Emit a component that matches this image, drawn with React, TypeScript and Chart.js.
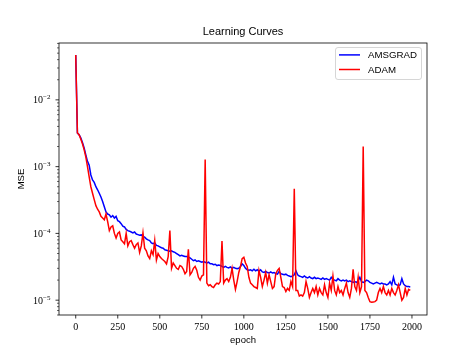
import React, { useEffect, useRef } from "react";
import { Chart, registerables } from "chart.js";

Chart.register(...registerables);

const TITLE = "Learning Curves";
const X_LABEL = "epoch";
const Y_LABEL = "MSE";
const SERIES_NAMES = ["AMSGRAD", "ADAM"];
const SERIES_COLORS = ["#0000ff", "#ff0000"];
const EPOCH_STEP = 10;
const X_TICKS = [0, 250, 500, 750, 1000, 1250, 1500, 1750, 2000];
const Y_DECADES = [-5, -4, -3, -2];
const X_MIN = -99.5;
const X_MAX = 2089.5;
const Y_MIN = 6e-6;
const Y_MAX = 7.1e-2;

const AMSGRAD = [
  4.7e-2, 3.2e-3, 3.0e-3, 2.7e-3, 2.3e-3, 1.9e-3, 1.5e-3, 1.2e-3, 1.05e-3, 7.5e-4,
  6.3e-4, 5.8e-4, 5.0e-4, 4.5e-4, 4.0e-4, 3.5e-4, 3.0e-4, 2.5e-4, 2.1e-4, 1.95e-4,
  1.9e-4, 1.75e-4, 1.85e-4, 1.7e-4, 1.8e-4, 1.55e-4, 1.5e-4, 1.4e-4, 1.28e-4, 1.25e-4,
  1.15e-4, 1.1e-4, 1.08e-4, 1.05e-4, 1.02e-4, 1.05e-4, 9.8e-5, 9.6e-5, 9.4e-5, 9.5e-5,
  9.0e-5, 8.8e-5, 8.3e-5, 8.0e-5, 7.8e-5, 7.2e-5, 7.0e-5, 7.2e-5, 6.6e-5, 6.5e-5,
  6.3e-5, 6.1e-5, 6.0e-5, 5.7e-5, 5.6e-5, 5.5e-5, 5.4e-5, 5.5e-5, 5.3e-5, 5.2e-5,
  5.0e-5, 4.8e-5, 4.6e-5, 4.7e-5, 4.6e-5, 4.5e-5, 4.5e-5, 4.4e-5, 4.3e-5, 4.1e-5,
  3.9e-5, 4.0e-5, 3.8e-5, 3.9e-5, 3.8e-5, 3.7e-5, 3.8e-5, 3.7e-5, 3.6e-5, 3.7e-5,
  3.5e-5, 3.5e-5, 3.4e-5, 3.45e-5, 3.3e-5, 3.35e-5, 3.3e-5, 3.2e-5, 3.1e-5, 3.2e-5,
  3.1e-5, 3.05e-5, 3.15e-5, 3.0e-5, 3.1e-5, 3.0e-5, 2.95e-5, 3.0e-5, 3.2e-5, 3.5e-5,
  3.3e-5, 3.0e-5, 2.85e-5, 2.8e-5, 2.85e-5, 2.75e-5, 2.9e-5, 2.75e-5, 2.85e-5, 2.7e-5,
  2.85e-5, 2.65e-5, 2.6e-5, 2.7e-5, 2.6e-5, 2.55e-5, 2.65e-5, 2.55e-5, 2.6e-5, 2.5e-5,
  2.45e-5, 2.7e-5, 2.5e-5, 2.45e-5, 2.4e-5, 2.45e-5, 2.35e-5, 2.3e-5, 2.25e-5, 2.3e-5,
  2.4e-5, 2.75e-5, 2.4e-5, 2.3e-5, 2.25e-5, 2.2e-5, 2.3e-5, 2.2e-5, 2.15e-5, 2.25e-5,
  2.15e-5, 2.1e-5, 2.2e-5, 2.1e-5, 2.15e-5, 2.1e-5, 2.05e-5, 2.15e-5, 2.05e-5, 2.1e-5,
  2.05e-5, 2.0e-5, 2.2e-5, 2.05e-5, 2.0e-5, 1.95e-5, 2.1e-5, 2.0e-5, 1.95e-5, 2.0e-5,
  1.95e-5, 2.0e-5, 1.9e-5, 1.95e-5, 1.9e-5, 1.85e-5, 1.9e-5, 1.85e-5, 1.95e-5, 2.2e-5,
  1.9e-5, 1.85e-5, 1.9e-5, 2.0e-5, 1.95e-5, 1.85e-5, 1.8e-5, 1.75e-5, 1.8e-5, 1.85e-5,
  1.8e-5, 1.75e-5, 1.8e-5, 1.75e-5, 1.75e-5, 1.7e-5, 1.75e-5, 1.9e-5, 1.7e-5, 2.2e-5,
  1.75e-5, 1.7e-5, 1.65e-5, 1.7e-5, 2.1e-5, 1.75e-5, 1.65e-5, 1.6e-5, 1.6e-5, 1.58e-5,
];

const ADAM = [
  4.7e-2, 3.2e-3, 3.0e-3, 2.6e-3, 2.2e-3, 1.8e-3, 1.4e-3, 1.0e-3, 7.0e-4, 5.0e-4,
  4.0e-4, 3.2e-4, 2.6e-4, 2.3e-4, 2.1e-4, 1.8e-4, 1.7e-4, 1.6e-4, 1.95e-4, 1.5e-4,
  1.1e-4, 1.25e-4, 1.3e-4, 1.0e-4, 8.5e-5, 1.0e-4, 1.05e-4, 8.0e-5, 7.5e-5, 7.0e-5,
  1.0e-4, 6.5e-5, 7.5e-5, 7.8e-5, 6.8e-5, 6.0e-5, 6.8e-5, 7.2e-5, 5.2e-5, 6.5e-5,
  1.02e-4, 6.0e-5, 5.5e-5, 4.6e-5, 4.2e-5, 5.5e-5, 4.8e-5, 7.8e-5, 4.0e-5, 5.0e-5,
  4.5e-5, 4.2e-5, 4.0e-5, 3.8e-5, 3.5e-5, 4.5e-5, 1.1e-4, 3.0e-5, 3.6e-5, 3.3e-5,
  3.0e-5, 2.9e-5, 3.3e-5, 3.2e-5, 2.9e-5, 2.5e-5, 2.7e-5, 5.8e-5, 2.4e-5, 2.6e-5,
  3.0e-5, 3.2e-5, 2.8e-5, 2.2e-5, 2.0e-5, 2.3e-5, 2.4e-5, 1.28e-3, 1.8e-5, 1.65e-5,
  1.7e-5, 1.6e-5, 1.55e-5, 1.7e-5, 1.8e-5, 1.75e-5, 1.9e-5, 7.7e-5, 1.8e-5, 2.0e-5,
  2.1e-5, 1.9e-5, 2.2e-5, 3.0e-5, 2.0e-5, 1.45e-5, 1.9e-5, 2.6e-5, 3.2e-5, 4.2e-5,
  4.4e-5, 3.6e-5, 3.2e-5, 2.2e-5, 1.8e-5, 1.7e-5, 1.6e-5, 1.55e-5, 1.5e-5, 2.8e-5,
  2.2e-5, 1.6e-5, 2.0e-5, 2.6e-5, 1.8e-5, 2.4e-5, 1.9e-5, 1.5e-5, 1.6e-5, 2.5e-5,
  2.8e-5, 3.0e-5, 2.2e-5, 1.6e-5, 1.55e-5, 1.35e-5, 1.5e-5, 1.4e-5, 1.9e-5, 1.6e-5,
  4.66e-4, 1.4e-5, 1.4e-5, 1.15e-5, 1.2e-5, 1.15e-5, 1.3e-5, 1.9e-5, 1.5e-5, 1.1e-5,
  1.3e-5, 1.5e-5, 1.3e-5, 1.6e-5, 1.2e-5, 1.5e-5, 1.3e-5, 1.2e-5, 1.7e-5, 1.3e-5,
  1.1e-5, 1.8e-5, 1.4e-5, 2.3e-5, 1.4e-5, 1.2e-5, 1.6e-5, 1.3e-5, 1.4e-5, 1.2e-5,
  1.5e-5, 1.8e-5, 1.3e-5, 1.1e-5, 1.5e-5, 2.9e-5, 1.6e-5, 1.4e-5, 2.2e-5, 1.3e-5,
  1.6e-5, 2.0e-3, 1.4e-5, 1.3e-5, 1.1e-5, 9.5e-6, 9.3e-6, 9.4e-6, 9.5e-6, 1.0e-5,
  1.3e-5, 1.5e-5, 1.3e-5, 1.6e-5, 1.3e-5, 1.2e-5, 1.4e-5, 1.2e-5, 1.5e-5, 1.3e-5,
  1.2e-5, 1.4e-5, 1.7e-5, 1.3e-5, 1.0e-5, 1.1e-5, 1.5e-5, 1.2e-5, 1.45e-5, 1.4e-5,
];

const SERIES = [AMSGRAD, ADAM];

const SERIF = '"Liberation Serif", "DejaVu Serif", serif';
const SANS = '"Liberation Sans", "DejaVu Sans", sans-serif';

const decorPlugin = {
  id: "decor",
  afterDraw(chart: any) {
    const { ctx, chartArea: a, scales } = chart;
    const xs = scales.x;
    const ys = scales.y;
    ctx.save();
    // tick marks
    ctx.strokeStyle = "#000";
    ctx.lineWidth = 0.8;
    ctx.beginPath();
    for (const t of X_TICKS) {
      const px = xs.getPixelForValue(t);
      ctx.moveTo(px, a.bottom);
      ctx.lineTo(px, a.bottom + 3.5);
    }
    ctx.stroke();
    for (let e = -7; e <= 0; e++) {
      for (let m = 1; m <= 9; m++) {
        const v = m * Math.pow(10, e);
        if (v < ys.min || v > ys.max) continue;
        const py = ys.getPixelForValue(v);
        const len = m === 1 ? 3.5 : 2;
        ctx.lineWidth = m === 1 ? 0.8 : 0.6;
        ctx.beginPath();
        ctx.moveTo(a.left - len, py);
        ctx.lineTo(a.left, py);
        ctx.stroke();
      }
    }
    // frame
    ctx.lineWidth = 0.8;
    ctx.strokeRect(a.left, a.top, a.right - a.left, a.bottom - a.top);

    // y tick labels 10^n
    ctx.fillStyle = "#000";
    ctx.textBaseline = "alphabetic";
    ctx.textAlign = "left";
    for (const e of Y_DECADES) {
      const py = ys.getPixelForValue(Math.pow(10, e));
      const sup = "\u2212" + String(-e);
      ctx.font = `7px ${SERIF}`;
      const w2 = ctx.measureText(sup).width;
      ctx.font = `10px ${SERIF}`;
      const w1 = ctx.measureText("10").width;
      const right = a.left - 8.5;
      ctx.fillText("10", right - w2 - w1, py + 3.5);
      ctx.font = `7px ${SERIF}`;
      ctx.fillText(sup, right - w2, py - 0.5);
    }

    // title
    ctx.font = `11px ${SANS}`;
    ctx.textAlign = "center";
    ctx.textBaseline = "middle";
    ctx.fillText(TITLE, (a.left + a.right) / 2, a.top - 11.5);

    // legend
    const bw = 86;
    const bh = 32;
    const bx = a.right - 5.5 - bw;
    const by = a.top + 4.5;
    ctx.beginPath();
    ctx.roundRect(bx, by, bw, bh, 2.5);
    ctx.fillStyle = "rgba(255,255,255,0.8)";
    ctx.fill();
    ctx.strokeStyle = "#cccccc";
    ctx.lineWidth = 0.8;
    ctx.stroke();
    ctx.font = `9.7px ${SANS}`;
    ctx.textAlign = "left";
    ctx.textBaseline = "middle";
    SERIES_NAMES.forEach((name, i) => {
      const ly = by + 7.4 + i * 14.6;
      ctx.strokeStyle = SERIES_COLORS[i];
      ctx.lineWidth = 1.5;
      ctx.beginPath();
      ctx.moveTo(bx + 3.5, ly);
      ctx.lineTo(bx + 24.5, ly);
      ctx.stroke();
      ctx.fillStyle = "#000";
      ctx.fillText(name, bx + 32.5, ly + 0.5);
    });
    ctx.restore();
  },
};

export default function App() {
  const ref = useRef<HTMLCanvasElement | null>(null);

  useEffect(() => {
    if (!ref.current) return;
    const datasets = SERIES.map((vals, i) => ({
      label: SERIES_NAMES[i],
      data: vals.map((v, k) => ({ x: k * EPOCH_STEP, y: v })),
      borderColor: SERIES_COLORS[i],
      backgroundColor: SERIES_COLORS[i],
      borderWidth: 1.5,
      pointRadius: 0,
      tension: 0,
      fill: false,
      order: SERIES.length - 1 - i,
    }));
    const chart = new Chart(ref.current, {
      type: "line",
      data: { datasets },
      options: {
        animation: false,
        responsive: true,
        maintainAspectRatio: false,
        layout: { padding: { left: 0, top: 43, right: 47, bottom: 0 } },
        plugins: {
          legend: { display: false },
          title: { display: false },
          tooltip: { enabled: false },
        },
        scales: {
          x: {
            type: "linear",
            min: X_MIN,
            max: X_MAX,
            bounds: "data",
            grid: { display: false, drawTicks: false },
            border: { display: false },
            afterBuildTicks: (s: any) => {
              s.ticks = X_TICKS.map((v) => ({ value: v }));
            },
            afterFit: (s: any) => {
              s.height = 40;
            },
            ticks: {
              padding: 6,
              maxRotation: 0,
              autoSkip: false,
              color: "#000",
              font: { family: SERIF, size: 10 },
              callback: (v: any) => String(v),
            },
            title: {
              display: true,
              text: X_LABEL,
              color: "#000",
              font: { family: SANS, size: 9.5 },
              padding: { top: 0, bottom: 9 },
            },
          },
          y: {
            type: "logarithmic",
            min: Y_MIN,
            max: Y_MAX,
            bounds: "data",
            grid: { display: false, drawTicks: false },
            border: { display: false },
            ticks: { display: false },
            afterFit: (s: any) => {
              s.width = 59;
            },
            title: {
              display: true,
              text: Y_LABEL,
              color: "#000",
              font: { family: SANS, size: 9.5 },
              padding: { top: 16, bottom: 0 },
            },
          },
        },
      },
      plugins: [decorPlugin],
    });
    return () => chart.destroy();
  }, []);

  return (
    <div style={{ position: "absolute", left: 0, top: 0, width: 474, height: 355, background: "#fff" }}>
      <canvas ref={ref} />
    </div>
  );
}
